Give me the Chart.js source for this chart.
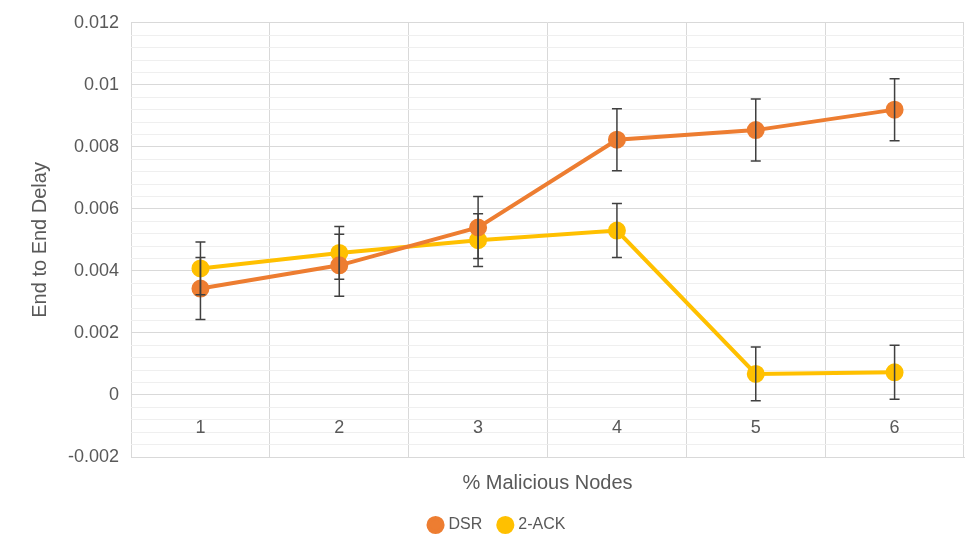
<!DOCTYPE html>
<html><head><meta charset="utf-8">
<script src="https://cdn.jsdelivr.net/npm/chart.js@4"></script>
<style>html,body{margin:0;background:#fff}#w{width:975px;height:547px}</style>
</head><body><div id="w"><canvas id="c"></canvas></div>
<script>
const categories = ['1','2','3','4','5','6'];
const dsr = [0.00343, 0.00418, 0.0054, 0.00823, 0.00854, 0.0092];
const dsrErr = [0.001, 0.001, 0.001, 0.001, 0.001, 0.001];
const ack = [0.00408, 0.00458, 0.00499, 0.0053, 0.00068, 0.00073];
const ackErr = [0.00085, 0.00085, 0.00085, 0.00087, 0.00087, 0.00087];
const FC = '#595959';
const errPlugin = {
  id:'err',
  afterDatasetsDraw(ch){
    const ctx=ch.ctx, y=ch.scales.y;
    ch.data.datasets.forEach((ds,i)=>{
      const meta=ch.getDatasetMeta(i);
      ds.err.forEach((e,j)=>{
        const x=meta.data[j].x, v=ds.data[j];
        const t=y.getPixelForValue(v+e), b=y.getPixelForValue(v-e);
        ctx.save();ctx.strokeStyle='#404040';ctx.lineWidth=1.5;
        ctx.beginPath();ctx.moveTo(x,t);ctx.lineTo(x,b);
        ctx.moveTo(x-5,t);ctx.lineTo(x+5,t);ctx.moveTo(x-5,b);ctx.lineTo(x+5,b);
        ctx.stroke();ctx.restore();
      });
    });
  }
};
const xLab = {
  id:'xlab',
  beforeDatasetsDraw(ch){
    const ctx=ch.ctx, y0=ch.scales.y.getPixelForValue(0)+33, x=ch.scales.x;
    ctx.save();ctx.fillStyle=FC;ctx.font='18px "Liberation Sans", Arial';
    ctx.textAlign='center';ctx.textBaseline='middle';
    categories.forEach((c,i)=>ctx.fillText(c,x.getPixelForValue(i),y0));
    ctx.restore();
  }
};
new Chart(document.getElementById('c'),{
  type:'line',
  data:{labels:categories,datasets:[
    {label:'DSR',data:dsr,err:dsrErr,borderColor:'#ED7D31',backgroundColor:'#ED7D31',borderWidth:4,pointRadius:7,pointHoverRadius:7},
    {label:'2-ACK',data:ack,err:ackErr,borderColor:'#FFC000',backgroundColor:'#FFC000',borderWidth:4,pointRadius:7,pointHoverRadius:7}
  ]},
  options:{
    responsive:true,maintainAspectRatio:false,animation:false,
    layout:{padding:{top:0,right:3,left:24,bottom:4}},
    plugins:{
      legend:{position:'bottom',labels:{usePointStyle:true,pointStyle:'circle',boxHeight:10,boxWidth:10,color:FC,font:{size:16,family:'"Liberation Sans", Arial'},padding:18}},
      tooltip:{enabled:false}
    },
    scales:{
      x:{offset:true,grid:{offset:true,color:'#d9d9d9',drawTicks:false},border:{color:'#d9d9d9'},
         ticks:{display:false},
         title:{display:true,text:'% Malicious Nodes',color:FC,font:{size:20,family:'"Liberation Sans", Arial'},padding:{top:14,bottom:4}}},
      y:{min:-0.002,max:0.012,
         ticks:{stepSize:0.0004,autoSkip:false,color:FC,font:{size:18,family:'"Liberation Sans", Arial'},padding:12,
           callback(v){const r=Math.round(v*10000);if(r%20!==0)return '';return r===0?'0':(r/10000).toString();}},
         grid:{drawTicks:false,color(c){const r=Math.round(c.tick.value*10000);return r%20===0?'#d9d9d9':'#efefef';}},
         border:{display:false},
         title:{display:true,text:'End to End Delay',color:FC,font:{size:20,family:'"Liberation Sans", Arial'}}}
    }
  },
  plugins:[errPlugin,xLab]
});
</script></body></html>
